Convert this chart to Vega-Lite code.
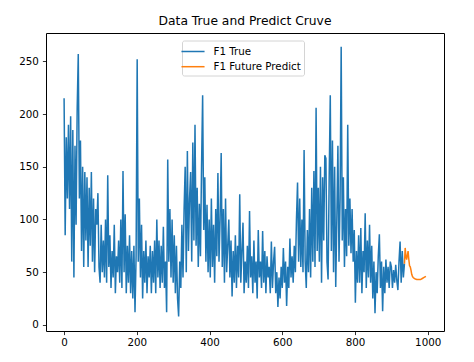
{
  "$schema": "https://vega.github.io/schema/vega-lite/v6.json",
  "autosize": {"type": "none"},
  "padding": {"left": 46, "top": 33, "right": 30, "bottom": 31},
  "width": 398,
  "height": 298,
  "background": "white",
  "title": {"text": "Data True and Predict Cruve", "font": "DejaVu Sans", "fontSize": 12.3, "fontWeight": "normal", "color": "black", "offset": 6, "anchor": "middle"},
  "config": {
    "view": {"stroke": "black", "strokeWidth": 1},
    "axis": {"labelFont": "DejaVu Sans", "labelFontSize": 10.3, "labelColor": "black", "tickColor": "black", "tickSize": 3.6, "tickWidth": 0.8, "domain": false, "grid": false, "title": null}
  },
  "datasets": {
    "t": [
{"x":0,"y":215},{"x":3,"y":85},{"x":6,"y":178},{"x":9,"y":120},{"x":12,"y":190},{"x":15,"y":110},{"x":18,"y":198},{"x":21,"y":60},{"x":24,"y":185},{"x":27,"y":45},
{"x":30,"y":170},{"x":33,"y":95},{"x":36,"y":205},{"x":39,"y":257},{"x":42,"y":120},{"x":45,"y":175},{"x":48,"y":70},{"x":51,"y":150},{"x":54,"y":55},{"x":57,"y":145},
{"x":60,"y":80},{"x":63,"y":140},{"x":66,"y":55},{"x":69,"y":130},{"x":72,"y":75},{"x":75,"y":145},{"x":78,"y":60},{"x":81,"y":120},{"x":84,"y":50},{"x":87,"y":110},
{"x":90,"y":95},{"x":93,"y":125},{"x":96,"y":55},{"x":99,"y":40},{"x":102,"y":95},{"x":105,"y":50},{"x":108,"y":80},{"x":111,"y":45},{"x":114,"y":100},{"x":117,"y":40},
{"x":120,"y":142},{"x":123,"y":55},{"x":126,"y":85},{"x":129,"y":35},{"x":132,"y":70},{"x":135,"y":45},{"x":138,"y":95},{"x":141,"y":30},{"x":144,"y":65},{"x":147,"y":50},
{"x":150,"y":80},{"x":153,"y":40},{"x":156,"y":100},{"x":159,"y":35},{"x":162,"y":146},{"x":165,"y":50},{"x":168,"y":105},{"x":171,"y":30},{"x":174,"y":75},{"x":177,"y":40},
{"x":180,"y":85},{"x":183,"y":30},{"x":186,"y":70},{"x":189,"y":25},{"x":192,"y":75},{"x":195,"y":12},{"x":198,"y":65},{"x":201,"y":252},{"x":204,"y":60},{"x":207,"y":120},
{"x":210,"y":45},{"x":213,"y":95},{"x":216,"y":25},{"x":219,"y":70},{"x":222,"y":40},{"x":225,"y":80},{"x":228,"y":30},{"x":231,"y":65},{"x":234,"y":45},{"x":237,"y":75},
{"x":240,"y":30},{"x":243,"y":70},{"x":246,"y":40},{"x":249,"y":80},{"x":252,"y":30},{"x":255,"y":100},{"x":258,"y":45},{"x":261,"y":80},{"x":264,"y":35},{"x":267,"y":75},
{"x":270,"y":40},{"x":273,"y":93},{"x":276,"y":35},{"x":279,"y":60},{"x":282,"y":12},{"x":285,"y":157},{"x":288,"y":60},{"x":291,"y":110},{"x":294,"y":45},{"x":297,"y":100},
{"x":300,"y":40},{"x":303,"y":85},{"x":306,"y":30},{"x":309,"y":75},{"x":312,"y":25},{"x":315,"y":8},{"x":318,"y":60},{"x":321,"y":35},{"x":324,"y":95},{"x":327,"y":45},
{"x":330,"y":110},{"x":333,"y":150},{"x":336,"y":50},{"x":339,"y":165},{"x":342,"y":70},{"x":345,"y":120},{"x":348,"y":145},{"x":351,"y":60},{"x":354,"y":173},{"x":357,"y":80},
{"x":360,"y":190},{"x":363,"y":75},{"x":366,"y":130},{"x":369,"y":55},{"x":372,"y":115},{"x":375,"y":65},{"x":378,"y":150},{"x":381,"y":218},{"x":384,"y":90},{"x":387,"y":140},
{"x":390,"y":60},{"x":393,"y":114},{"x":396,"y":50},{"x":399,"y":100},{"x":402,"y":45},{"x":405,"y":120},{"x":408,"y":55},{"x":411,"y":95},{"x":414,"y":40},{"x":417,"y":110},
{"x":420,"y":65},{"x":423,"y":144},{"x":426,"y":60},{"x":429,"y":100},{"x":432,"y":163},{"x":435,"y":55},{"x":438,"y":110},{"x":441,"y":40},{"x":444,"y":120},{"x":447,"y":50},
{"x":450,"y":75},{"x":453,"y":100},{"x":456,"y":45},{"x":459,"y":80},{"x":462,"y":27},{"x":465,"y":70},{"x":468,"y":40},{"x":471,"y":85},{"x":474,"y":35},{"x":477,"y":75},
{"x":480,"y":45},{"x":483,"y":124},{"x":486,"y":40},{"x":489,"y":70},{"x":492,"y":97},{"x":495,"y":30},{"x":498,"y":60},{"x":501,"y":40},{"x":504,"y":75},{"x":507,"y":35},
{"x":510,"y":108},{"x":513,"y":45},{"x":516,"y":65},{"x":519,"y":30},{"x":522,"y":80},{"x":525,"y":40},{"x":528,"y":60},{"x":531,"y":25},{"x":534,"y":90},{"x":537,"y":45},
{"x":540,"y":60},{"x":543,"y":35},{"x":546,"y":89},{"x":549,"y":40},{"x":552,"y":70},{"x":555,"y":30},{"x":558,"y":65},{"x":561,"y":45},{"x":564,"y":55},{"x":567,"y":30},
{"x":570,"y":79},{"x":573,"y":35},{"x":576,"y":60},{"x":579,"y":74},{"x":582,"y":30},{"x":585,"y":50},{"x":588,"y":17},{"x":591,"y":45},{"x":594,"y":25},{"x":597,"y":55},
{"x":600,"y":35},{"x":603,"y":73},{"x":606,"y":40},{"x":609,"y":60},{"x":612,"y":18},{"x":615,"y":55},{"x":618,"y":35},{"x":621,"y":82},{"x":624,"y":45},{"x":627,"y":65},
{"x":630,"y":40},{"x":633,"y":75},{"x":636,"y":50},{"x":639,"y":100},{"x":642,"y":135},{"x":645,"y":60},{"x":648,"y":120},{"x":651,"y":55},{"x":654,"y":100},{"x":657,"y":50},
{"x":660,"y":166},{"x":663,"y":60},{"x":666,"y":35},{"x":669,"y":90},{"x":672,"y":50},{"x":675,"y":110},{"x":678,"y":45},{"x":681,"y":130},{"x":684,"y":60},{"x":687,"y":146},
{"x":690,"y":55},{"x":693,"y":206},{"x":696,"y":70},{"x":699,"y":130},{"x":702,"y":60},{"x":705,"y":150},{"x":708,"y":40},{"x":711,"y":140},{"x":714,"y":80},{"x":717,"y":161},
{"x":720,"y":158},{"x":723,"y":60},{"x":726,"y":43},{"x":729,"y":140},{"x":732,"y":218},{"x":735,"y":70},{"x":738,"y":175},{"x":741,"y":50},{"x":744,"y":150},{"x":747,"y":36},
{"x":750,"y":100},{"x":753,"y":170},{"x":756,"y":60},{"x":759,"y":120},{"x":762,"y":264},{"x":765,"y":80},{"x":768,"y":140},{"x":771,"y":55},{"x":774,"y":110},{"x":777,"y":65},
{"x":780,"y":190},{"x":783,"y":75},{"x":786,"y":120},{"x":789,"y":68},{"x":792,"y":110},{"x":795,"y":60},{"x":798,"y":90},{"x":801,"y":21},{"x":804,"y":70},{"x":807,"y":40},
{"x":810,"y":85},{"x":813,"y":40},{"x":816,"y":92},{"x":819,"y":30},{"x":822,"y":70},{"x":825,"y":50},{"x":828,"y":106},{"x":831,"y":35},{"x":834,"y":80},{"x":837,"y":45},
{"x":840,"y":95},{"x":843,"y":40},{"x":846,"y":75},{"x":849,"y":25},{"x":852,"y":60},{"x":855,"y":11},{"x":858,"y":50},{"x":861,"y":30},{"x":864,"y":65},{"x":867,"y":86},
{"x":870,"y":35},{"x":873,"y":60},{"x":876,"y":13},{"x":879,"y":55},{"x":882,"y":30},{"x":885,"y":62},{"x":888,"y":40},{"x":891,"y":55},{"x":894,"y":35},{"x":897,"y":60},
{"x":900,"y":55},{"x":903,"y":35},{"x":906,"y":52},{"x":909,"y":40},{"x":912,"y":57},{"x":915,"y":42},{"x":918,"y":33},{"x":921,"y":60},{"x":924,"y":79},{"x":927,"y":40},
{"x":930,"y":70},{"x":933,"y":45},{"x":936,"y":58}
    ],
    "p": [
{"x":936,"y":58},{"x":938,"y":73},{"x":940,"y":65},{"x":942,"y":62},{"x":944,"y":66},{"x":946,"y":70},{"x":948,"y":62},{"x":950,"y":56},{"x":952,"y":55},{"x":954,"y":52},
{"x":956,"y":48},{"x":958,"y":46},{"x":960,"y":45},{"x":963,"y":44},{"x":966,"y":43.5},{"x":970,"y":43},{"x":975,"y":43},{"x":980,"y":43},{"x":985,"y":44},{"x":990,"y":45},{"x":995,"y":46}
    ]
  },
  "encoding": {
    "x": {"field": "x", "type": "quantitative", "scale": {"domain": [-49.75, 1044.75], "nice": false, "zero": false}, "axis": {"values": [0, 200, 400, 600, 800, 1000], "format": "d", "labelPadding": 3}},
    "y": {"field": "y", "type": "quantitative", "scale": {"domain": [-5.85, 277], "nice": false, "zero": false}, "axis": {"values": [0, 50, 100, 150, 200, 250], "format": "d", "labelPadding": 4}}
  },
  "layer": [
    {
      "data": {"name": "t"},
      "mark": {"type": "line", "strokeWidth": 1.5, "clip": true},
      "encoding": {"color": {"datum": "F1 True", "type": "nominal", "scale": {"domain": ["F1 True", "F1 Future Predict"], "range": ["#1f77b4", "#ff7f0e"]},
        "legend": {"title": null, "orient": "none", "legendX": 136, "legendY": 7.5, "symbolType": "M-1.65,0L1.65,0", "symbolSize": 196, "symbolStrokeWidth": 1.5, "labelFont": "DejaVu Sans", "labelFontSize": 10.3, "labelColor": "black", "labelOffset": 12.5, "rowPadding": 1.2, "padding": 3, "strokeColor": "#d4d4d4", "fillColor": "white", "cornerRadius": 2}}}
    },
    {
      "data": {"name": "p"},
      "mark": {"type": "line", "strokeWidth": 1.5, "clip": true},
      "encoding": {"color": {"datum": "F1 Future Predict", "type": "nominal"}}
    }
  ]
}
